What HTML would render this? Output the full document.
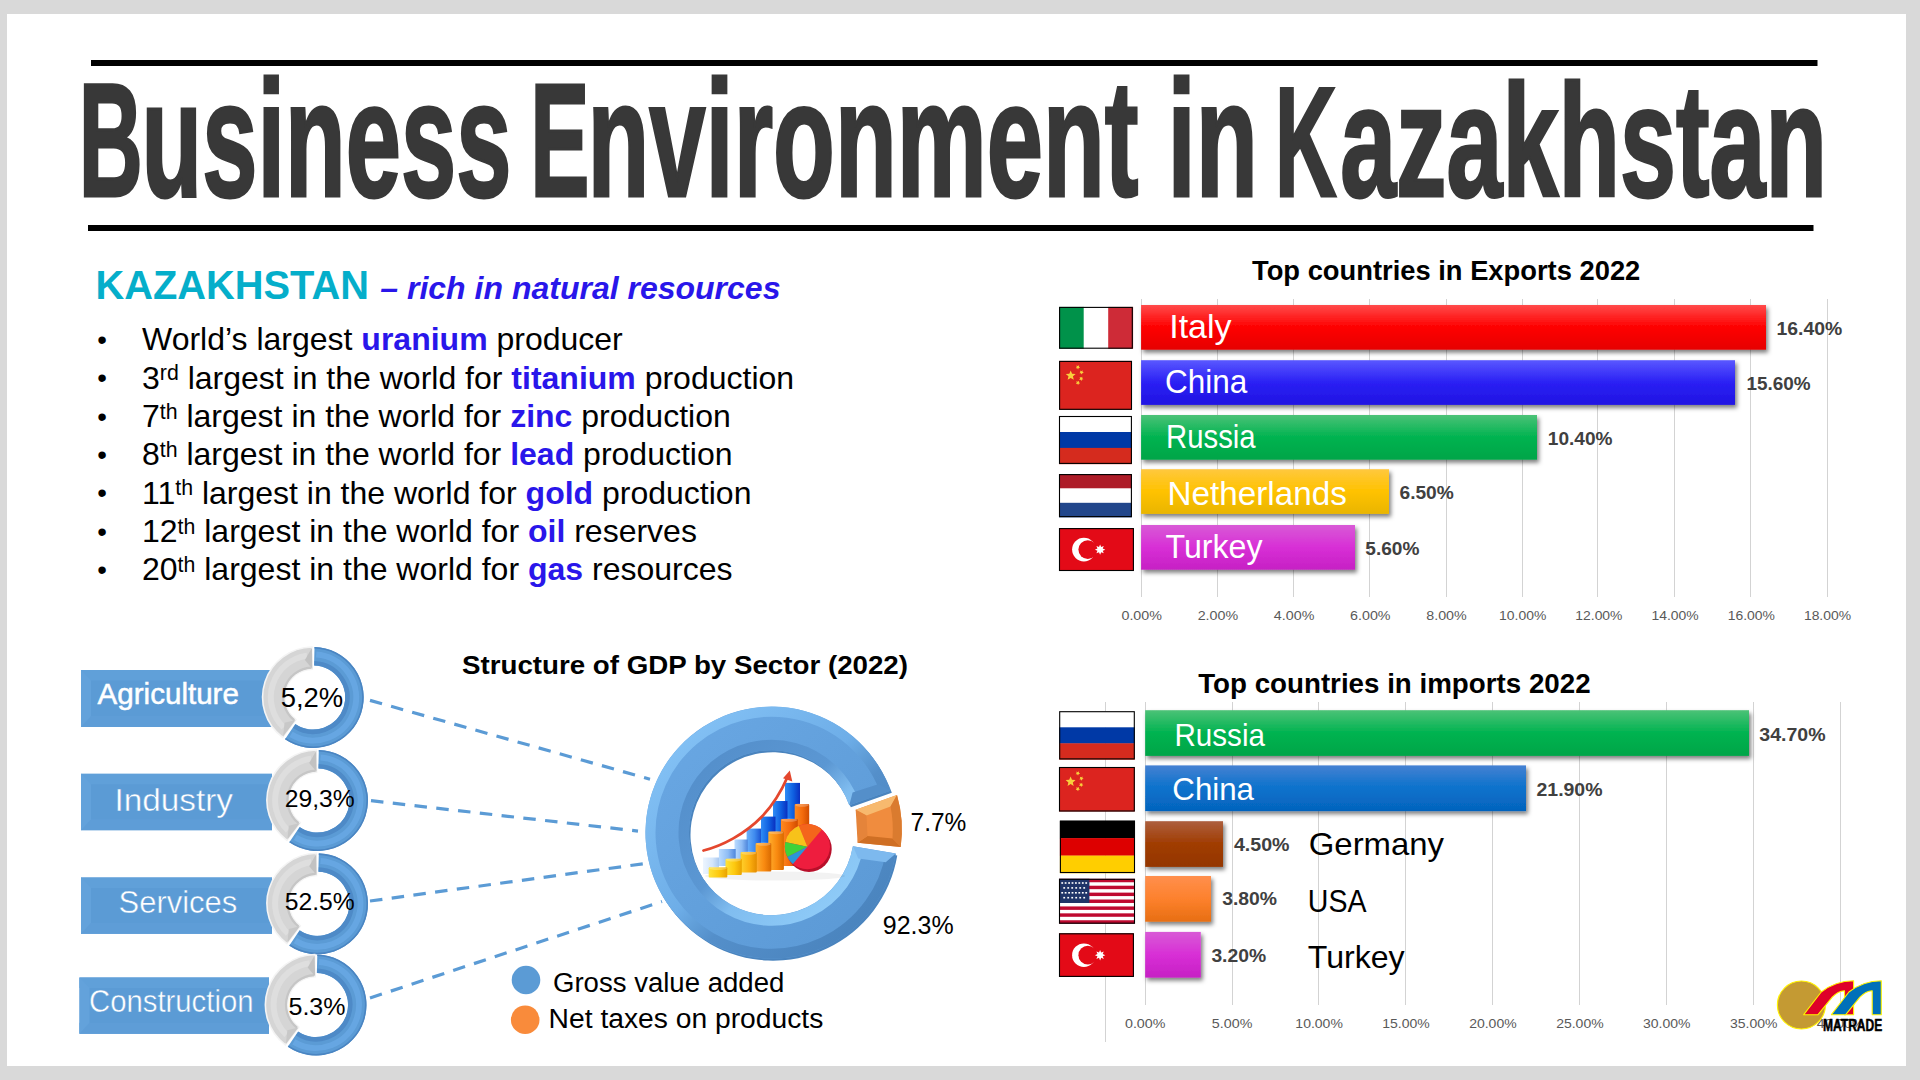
<!DOCTYPE html>
<html lang="en">
<head>
<meta charset="utf-8">
<title>Business Environment in Kazakhstan</title>
<style>
html,body{margin:0;padding:0}
body{width:1920px;height:1080px;background:#d9d9d9;position:relative;overflow:hidden;font-family:"Liberation Sans",sans-serif}
#slide{position:absolute;left:7px;top:14px;width:1899px;height:1052px;background:#fff}
svg{position:absolute;left:0;top:0}
text{font-family:"Liberation Sans",sans-serif}
.b{font-weight:bold}
.hl{font-weight:bold;fill:#2916ea}
.sup{font-size:21.3px}
.ax{font-size:12.9px;fill:#595959;text-anchor:middle}
.val{font-size:17.8px;font-weight:bold;fill:#404040}
.lbl{fill:#fff}
</style>
</head>
<body>
<div id="slide"></div>
<svg width="1920" height="1080" viewBox="0 0 1920 1080">
<defs>

<linearGradient id="gRed" x1="0" y1="0" x2="0" y2="1"><stop offset="0" stop-color="#ff4a4a"/><stop offset=".5" stop-color="#fe0000"/><stop offset="1" stop-color="#e60000"/></linearGradient>
<linearGradient id="gBlue" x1="0" y1="0" x2="0" y2="1"><stop offset="0" stop-color="#5a58ff"/><stop offset=".5" stop-color="#2a20f4"/><stop offset="1" stop-color="#2114e2"/></linearGradient>
<linearGradient id="gGreen" x1="0" y1="0" x2="0" y2="1"><stop offset="0" stop-color="#4cc277"/><stop offset=".5" stop-color="#00b350"/><stop offset="1" stop-color="#00a548"/></linearGradient>
<linearGradient id="gYel" x1="0" y1="0" x2="0" y2="1"><stop offset="0" stop-color="#ffc83e"/><stop offset=".5" stop-color="#ffc200"/><stop offset="1" stop-color="#e9b500"/></linearGradient>
<linearGradient id="gMag" x1="0" y1="0" x2="0" y2="1"><stop offset="0" stop-color="#d85ad6"/><stop offset=".5" stop-color="#d82fd6"/><stop offset="1" stop-color="#c620c4"/></linearGradient>
<linearGradient id="gBlue2" x1="0" y1="0" x2="0" y2="1"><stop offset="0" stop-color="#4681d2"/><stop offset=".5" stop-color="#0a72cc"/><stop offset="1" stop-color="#0563bd"/></linearGradient>
<linearGradient id="gBrown" x1="0" y1="0" x2="0" y2="1"><stop offset="0" stop-color="#ad5f3d"/><stop offset=".5" stop-color="#a03c02"/><stop offset="1" stop-color="#943600"/></linearGradient>
<linearGradient id="gOrange" x1="0" y1="0" x2="0" y2="1"><stop offset="0" stop-color="#ff8f4d"/><stop offset=".5" stop-color="#fd812d"/><stop offset="1" stop-color="#e76e12"/></linearGradient>
<filter id="sh" x="-5%" y="-20%" width="110%" height="150%"><feDropShadow dx="2" dy="3" stdDeviation="2" flood-color="#000" flood-opacity=".5"/></filter>

<g id="ring">
<path d="M1.32,-50.38 A50.40,50.40 0 1 1 -28.18,41.78 L-17.89,26.53 A32.00,32.00 0 1 0 0.84,-31.99 Z" fill="#5b9bd5"/>
<path d="M1.30,-49.68 A49.70,49.70 0 1 1 -27.79,41.20" fill="none" stroke="#4a85c2" stroke-width="1.6"/>
<path d="M3.00,-42.90 A43.00,43.00 0 1 1 -22.15,36.86" fill="none" stroke="#69a9e5" stroke-width="6" opacity=".8"/>
<path d="M1.19,-34.18 A34.20,34.20 0 1 1 -18.88,28.52" fill="none" stroke="#4e8ac7" stroke-width="4.5"/>
<path d="M-30.61,39.79 A50.20,50.20 0 0 1 -1.28,-50.49 L-0.89,-28.30 A28.00,28.00 0 0 0 -17.25,22.06 Z" fill="#d5d5d5" stroke="#f4f4f4" stroke-width="1.6"/>
<path d="M-29.58,29.91 A42.00,42.00 0 0 1 -6.25,-41.89" fill="none" stroke="#dedede" stroke-width="6"/>
<path d="M-19.03,22.70 A29.60,29.60 0 0 1 -1.95,-29.86" fill="none" stroke="#c6c6c6" stroke-width="2.2"/>
<path d="M-0.90,-28.80 L-1.26,-49.79 L-8.30,-37.47 Z" fill="#c2c2c2"/>
<path d="M-17.55,22.46 L-30.19,39.23 L-28.64,25.13 Z" fill="#c8c8c8"/>
</g>

<linearGradient id="dMain" gradientUnits="userSpaceOnUse" x1="680" y1="740" x2="865" y2="925"><stop offset="0" stop-color="#68a6e2"/><stop offset="1" stop-color="#5c9ad6"/></linearGradient>
<linearGradient id="dOut" gradientUnits="userSpaceOnUse" x1="680" y1="740" x2="865" y2="925"><stop offset="0" stop-color="#82c0f4"/><stop offset=".45" stop-color="#6eaee8"/><stop offset=".62" stop-color="#548fca"/><stop offset="1" stop-color="#4a84be"/></linearGradient>
<linearGradient id="dIn" gradientUnits="userSpaceOnUse" x1="700" y1="760" x2="845" y2="905"><stop offset="0" stop-color="#548fcb"/><stop offset=".45" stop-color="#5b97d3"/><stop offset=".62" stop-color="#80bdf0"/><stop offset="1" stop-color="#90ccf8"/></linearGradient>
<linearGradient id="cY" x1="0" y1="0" x2="1" y2="0"><stop offset="0" stop-color="#ffe43a"/><stop offset=".55" stop-color="#fdc90f"/><stop offset="1" stop-color="#e9a200"/></linearGradient>
<linearGradient id="cO" x1="0" y1="0" x2="1" y2="0"><stop offset="0" stop-color="#ffb02e"/><stop offset=".55" stop-color="#f98a10"/><stop offset="1" stop-color="#d96a00"/></linearGradient>
<linearGradient id="cR" x1="0" y1="0" x2="1" y2="0"><stop offset="0" stop-color="#ff8a20"/><stop offset=".55" stop-color="#f36a0c"/><stop offset="1" stop-color="#d04c00"/></linearGradient>
<linearGradient id="cB" x1="0" y1="0" x2="1" y2="0"><stop offset="0" stop-color="#2f8cf5"/><stop offset=".55" stop-color="#0f5fe0"/><stop offset="1" stop-color="#0a2fc0"/></linearGradient>
<linearGradient id="cLB" x1="0" y1="0" x2="1" y2="0"><stop offset="0" stop-color="#bcdcff"/><stop offset=".55" stop-color="#8ebcf5"/><stop offset="1" stop-color="#4d86dc"/></linearGradient>
<linearGradient id="cY2" x1="0" y1="0" x2="1" y2="0"><stop offset="0" stop-color="#ffd22c"/><stop offset=".55" stop-color="#fcb010"/><stop offset="1" stop-color="#e38c00"/></linearGradient>
<linearGradient id="cMB" x1="0" y1="0" x2="1" y2="0"><stop offset="0" stop-color="#6db2fa"/><stop offset=".55" stop-color="#3f8bef"/><stop offset="1" stop-color="#1c55d2"/></linearGradient>
<linearGradient id="cVB" x1="0" y1="0" x2="1" y2="0"><stop offset="0" stop-color="#edf5ff"/><stop offset=".6" stop-color="#d3e5fb"/><stop offset="1" stop-color="#a9c8f0"/></linearGradient>
<!--DEFS-->
</defs>

<!-- ===== TITLE ===== -->
<rect x="91" y="60" width="1726.5" height="6" fill="#000"/>
<rect x="88" y="225" width="1725.5" height="6" fill="#000"/>
<text y="196" font-weight="bold" fill="#383838" stroke="#383838" stroke-width="3"><tspan x="78.65" font-size="161.3" textLength="64.07" lengthAdjust="spacingAndGlyphs">B</tspan><tspan x="141.58" font-size="165.0" textLength="369.89" lengthAdjust="spacingAndGlyphs">usiness</tspan> <tspan x="530.35" font-size="161.3" textLength="59.17" lengthAdjust="spacingAndGlyphs">E</tspan><tspan x="587.49" font-size="165.0" textLength="551.09" lengthAdjust="spacingAndGlyphs">nvironment</tspan> <tspan x="1167.45" font-size="165.0" textLength="90.36" lengthAdjust="spacingAndGlyphs">in</tspan> <tspan x="1275.02" font-size="155.0" textLength="61.56" lengthAdjust="spacingAndGlyphs">K</tspan><tspan x="1340.13" font-size="160.0" textLength="486.75" lengthAdjust="spacingAndGlyphs">azakhstan</tspan></text>

<!-- ===== LEFT TEXT ===== -->
<text x="95.5" y="299.2" font-size="39.8" font-weight="bold" fill="#05aeca">KAZAKHSTAN<tspan dx="2.5" font-size="32" font-style="italic" fill="#2916ea"> – rich in natural resources</tspan></text>
<g font-size="32" fill="#000">
<text x="97.2" y="349.0" font-size="27.5">•</text>
<text x="142" y="350.4">World’s largest <tspan class="hl">uranium</tspan> producer</text>
<text x="97.2" y="387.3" font-size="27.5">•</text>
<text x="142" y="388.7">3<tspan class="sup" dy="-8.3">rd</tspan><tspan dy="8.3"> largest in the world for </tspan><tspan class="hl">titanium</tspan> production</text>
<text x="97.2" y="425.6" font-size="27.5">•</text>
<text x="142" y="427">7<tspan class="sup" dy="-8.3">th</tspan><tspan dy="8.3"> largest in the world for </tspan><tspan class="hl">zinc</tspan> production</text>
<text x="97.2" y="464.0" font-size="27.5">•</text>
<text x="142" y="465.4">8<tspan class="sup" dy="-8.3">th</tspan><tspan dy="8.3"> largest in the world for </tspan><tspan class="hl">lead</tspan> production</text>
<text x="97.2" y="502.3" font-size="27.5">•</text>
<text x="142" y="503.7">11<tspan class="sup" dy="-8.3">th</tspan><tspan dy="8.3"> largest in the world for </tspan><tspan class="hl">gold</tspan> production</text>
<text x="97.2" y="540.6" font-size="27.5">•</text>
<text x="142" y="542">12<tspan class="sup" dy="-8.3">th</tspan><tspan dy="8.3"> largest in the world for </tspan><tspan class="hl">oil</tspan> reserves</text>
<text x="97.2" y="579.0" font-size="27.5">•</text>
<text x="142" y="580.4">20<tspan class="sup" dy="-8.3">th</tspan><tspan dy="8.3"> largest in the world for </tspan><tspan class="hl">gas</tspan> resources</text>
</g>

<!-- ===== EXPORTS ===== -->
<text x="1252" y="279.6" font-size="27.2" font-weight="bold" fill="#000" textLength="388.3" lengthAdjust="spacingAndGlyphs">Top countries in Exports 2022</text>
<g stroke="#d3d3d3" stroke-width="1" shape-rendering="crispEdges"><line x1="1141.5" y1="299" x2="1141.5" y2="597"/><line x1="1217.5" y1="299" x2="1217.5" y2="597"/><line x1="1293.5" y1="299" x2="1293.5" y2="597"/><line x1="1369.5" y1="299" x2="1369.5" y2="597"/><line x1="1446.5" y1="299" x2="1446.5" y2="597"/><line x1="1522.5" y1="299" x2="1522.5" y2="597"/><line x1="1597.5" y1="299" x2="1597.5" y2="597"/><line x1="1674.5" y1="299" x2="1674.5" y2="597"/><line x1="1750.5" y1="299" x2="1750.5" y2="597"/><line x1="1827.5" y1="299" x2="1827.5" y2="597"/></g>
<g filter="url(#sh)"><rect x="1141.1" y="305.0" width="624.9" height="44.7" fill="url(#gRed)"/><rect x="1141.1" y="360.2" width="593.9" height="44.7" fill="url(#gBlue)"/><rect x="1141.1" y="415.0" width="395.9" height="44.7" fill="url(#gGreen)"/><rect x="1141.1" y="469.2" width="247.9" height="44.7" fill="url(#gYel)"/><rect x="1141.1" y="525.0" width="213.9" height="44.7" fill="url(#gMag)"/></g>
<g class="lbl"><text x="1169.2" y="337.5" font-size="33.3" textLength="62.4" lengthAdjust="spacingAndGlyphs">Italy</text>
<text x="1165.0" y="392.5" font-size="32.7" textLength="82.3" lengthAdjust="spacingAndGlyphs">China</text>
<text x="1166.0" y="448.3" font-size="33.3" textLength="89.6" lengthAdjust="spacingAndGlyphs">Russia</text>
<text x="1167.5" y="504.6" font-size="32.7" textLength="179.3" lengthAdjust="spacingAndGlyphs">Netherlands</text>
<text x="1165.5" y="558.3" font-size="32.7" textLength="97.0" lengthAdjust="spacingAndGlyphs">Turkey</text></g>
<g class="val"><text x="1776.5" y="334.8" textLength="65.7" lengthAdjust="spacingAndGlyphs">16.40%</text>
<text x="1746.4" y="389.8" textLength="64.1" lengthAdjust="spacingAndGlyphs">15.60%</text>
<text x="1547.8" y="445.2" textLength="64.7" lengthAdjust="spacingAndGlyphs">10.40%</text>
<text x="1399.5" y="498.9" textLength="54.3" lengthAdjust="spacingAndGlyphs">6.50%</text>
<text x="1365.3" y="555.0" textLength="54.1" lengthAdjust="spacingAndGlyphs">5.60%</text></g>
<g class="ax"><text x="1141.7" y="620" textLength="40.5" lengthAdjust="spacingAndGlyphs">0.00%</text>
<text x="1217.9" y="620" textLength="40.5" lengthAdjust="spacingAndGlyphs">2.00%</text>
<text x="1294.1" y="620" textLength="40.5" lengthAdjust="spacingAndGlyphs">4.00%</text>
<text x="1370.3" y="620" textLength="40.5" lengthAdjust="spacingAndGlyphs">6.00%</text>
<text x="1446.5" y="620" textLength="40.5" lengthAdjust="spacingAndGlyphs">8.00%</text>
<text x="1522.7" y="620" textLength="47.2" lengthAdjust="spacingAndGlyphs">10.00%</text>
<text x="1598.9" y="620" textLength="47.2" lengthAdjust="spacingAndGlyphs">12.00%</text>
<text x="1675.1" y="620" textLength="47.2" lengthAdjust="spacingAndGlyphs">14.00%</text>
<text x="1751.3" y="620" textLength="47.2" lengthAdjust="spacingAndGlyphs">16.00%</text>
<text x="1827.5" y="620" textLength="47.2" lengthAdjust="spacingAndGlyphs">18.00%</text></g>
<g><rect x="1059.1" y="306.9" width="24.9" height="41.8" fill="#00924a"/><rect x="1083.7" y="306.9" width="24.9" height="41.8" fill="#ffffff"/><rect x="1108.2" y="306.9" width="24.9" height="41.8" fill="#ce2b37"/><rect x="1059.6" y="307.4" width="72.7" height="40.8" fill="none" stroke="#000" stroke-width="1.1"/><rect x="1059.1" y="360.9" width="72.9" height="48.9" fill="#dc241f"/><g fill="#f8cf3c"><polygon points="1070.70,370.40 1072.08,373.71 1075.65,373.99 1072.93,376.32 1073.76,379.81 1070.70,377.94 1067.64,379.81 1068.47,376.32 1065.75,373.99 1069.32,373.71"/><polygon points="1079.05,365.21 1078.95,366.73 1080.15,367.68 1078.67,368.05 1078.14,369.49 1077.32,368.20 1075.80,368.14 1076.78,366.96 1076.36,365.49 1077.78,366.06"/><polygon points="1082.65,370.31 1082.55,371.83 1083.75,372.78 1082.27,373.15 1081.74,374.59 1080.92,373.30 1079.40,373.24 1080.38,372.06 1079.96,370.59 1081.38,371.16"/><polygon points="1082.35,376.71 1082.25,378.23 1083.45,379.18 1081.97,379.55 1081.44,380.99 1080.62,379.70 1079.10,379.64 1080.08,378.46 1079.66,376.99 1081.08,377.56"/><polygon points="1079.05,380.81 1078.95,382.33 1080.15,383.28 1078.67,383.65 1078.14,385.09 1077.32,383.80 1075.80,383.74 1076.78,382.56 1076.36,381.09 1077.78,381.66"/></g><rect x="1059.6" y="361.4" width="71.9" height="47.9" fill="none" stroke="#000" stroke-width="1.1"/><rect x="1059.0" y="416.0" width="72.9" height="16.3" fill="#ffffff"/><rect x="1059.0" y="432.0" width="72.9" height="16.3" fill="#0039a6"/><rect x="1059.0" y="447.9" width="72.9" height="16.3" fill="#d52b1e"/><rect x="1059.5" y="416.5" width="71.9" height="46.9" fill="none" stroke="#000" stroke-width="1.1"/><rect x="1059.0" y="474.1" width="72.9" height="14.6" fill="#ae1c28"/><rect x="1059.0" y="488.4" width="72.9" height="14.6" fill="#ffffff"/><rect x="1059.0" y="502.8" width="72.9" height="14.6" fill="#21468b"/><rect x="1059.5" y="474.6" width="71.9" height="42.0" fill="none" stroke="#000" stroke-width="1.1"/><rect x="1059.0" y="528.1" width="74.9" height="42.9" fill="#e30a17"/><circle cx="1083.9" cy="549.6" r="11.8" fill="#fff"/><circle cx="1087.8" cy="549.6" r="9.4" fill="#e30a17"/><g fill="#fff"><polygon points="1100.10,544.45 1101.19,547.01 1103.78,545.97 1102.74,548.56 1105.30,549.65 1102.74,550.74 1103.78,553.33 1101.19,552.29 1100.10,554.85 1099.01,552.29 1096.42,553.33 1097.46,550.74 1094.90,549.65 1097.46,548.56 1096.42,545.97 1099.01,547.01"/></g><rect x="1059.5" y="528.6" width="73.9" height="41.9" fill="none" stroke="#000" stroke-width="1.1"/></g>


<!-- ===== IMPORTS ===== -->
<text x="1198.2" y="692.8" font-size="27.6" font-weight="bold" fill="#000" textLength="392.4" lengthAdjust="spacingAndGlyphs">Top countries in imports 2022</text>
<g stroke="#d3d3d3" stroke-width="1" shape-rendering="crispEdges"><line x1="1105.5" y1="701.5" x2="1105.5" y2="1042"/><line x1="1145.5" y1="701.5" x2="1145.5" y2="1004.5"/><line x1="1232.5" y1="701.5" x2="1232.5" y2="1004.5"/><line x1="1318.5" y1="701.5" x2="1318.5" y2="1004.5"/><line x1="1405.5" y1="701.5" x2="1405.5" y2="1004.5"/><line x1="1492.5" y1="701.5" x2="1492.5" y2="1004.5"/><line x1="1579.5" y1="701.5" x2="1579.5" y2="1004.5"/><line x1="1666.5" y1="701.5" x2="1666.5" y2="1004.5"/><line x1="1753.5" y1="701.5" x2="1753.5" y2="1004.5"/><line x1="1840.5" y1="701.5" x2="1840.5" y2="1004.5"/></g>
<g filter="url(#sh)"><rect x="1145.2" y="710.2" width="603.8" height="45.7" fill="url(#gGreen)"/><rect x="1145.2" y="765.4" width="380.8" height="45.7" fill="url(#gBlue2)"/><rect x="1145.2" y="821.2" width="77.8" height="45.7" fill="url(#gBrown)"/><rect x="1145.2" y="876.0" width="65.8" height="45.7" fill="url(#gOrange)"/><rect x="1145.2" y="931.9" width="55.6" height="45.7" fill="url(#gMag)"/></g>
<g class="lbl"><text x="1174.4" y="745.8" font-size="32.0" textLength="90.6" lengthAdjust="spacingAndGlyphs">Russia</text>
<text x="1172.3" y="800.4" font-size="32.0" textLength="81.7" lengthAdjust="spacingAndGlyphs">China</text></g>
<g fill="#000"><text x="1308.8" y="854.6" font-size="31.3" textLength="135.2" lengthAdjust="spacingAndGlyphs">Germany</text>
<text x="1307.8" y="911.5" font-size="31.8" textLength="58.7" lengthAdjust="spacingAndGlyphs">USA</text>
<text x="1307.8" y="968.1" font-size="31.8" textLength="96.8" lengthAdjust="spacingAndGlyphs">Turkey</text></g>
<g class="val"><text x="1759.3" y="740.6" textLength="66.2" lengthAdjust="spacingAndGlyphs">34.70%</text>
<text x="1536.5" y="795.6" textLength="66.0" lengthAdjust="spacingAndGlyphs">21.90%</text>
<text x="1233.9" y="850.8" textLength="55.6" lengthAdjust="spacingAndGlyphs">4.50%</text>
<text x="1222.2" y="905.2" textLength="54.8" lengthAdjust="spacingAndGlyphs">3.80%</text>
<text x="1211.4" y="961.9" textLength="54.7" lengthAdjust="spacingAndGlyphs">3.20%</text></g>
<g class="ax"><text x="1145.2" y="1028.2" textLength="40.5" lengthAdjust="spacingAndGlyphs">0.00%</text>
<text x="1232.1" y="1028.2" textLength="40.5" lengthAdjust="spacingAndGlyphs">5.00%</text>
<text x="1319.1" y="1028.2" textLength="47.5" lengthAdjust="spacingAndGlyphs">10.00%</text>
<text x="1406.0" y="1028.2" textLength="47.5" lengthAdjust="spacingAndGlyphs">15.00%</text>
<text x="1492.9" y="1028.2" textLength="47.5" lengthAdjust="spacingAndGlyphs">20.00%</text>
<text x="1579.9" y="1028.2" textLength="47.5" lengthAdjust="spacingAndGlyphs">25.00%</text>
<text x="1666.8" y="1028.2" textLength="47.5" lengthAdjust="spacingAndGlyphs">30.00%</text>
<text x="1753.7" y="1028.2" textLength="47.5" lengthAdjust="spacingAndGlyphs">35.00%</text>
<text x="1840.6" y="1028.2" textLength="47.5" lengthAdjust="spacingAndGlyphs">40.00%</text></g>
<g><rect x="1059.2" y="711.2" width="75.6" height="16.4" fill="#ffffff"/><rect x="1059.2" y="727.3" width="75.6" height="16.4" fill="#0039a6"/><rect x="1059.2" y="743.3" width="75.6" height="16.4" fill="#d52b1e"/><rect x="1059.7" y="711.7" width="74.6" height="47.2" fill="none" stroke="#000" stroke-width="1.1"/><rect x="1059.0" y="767.0" width="75.8" height="44.5" fill="#dc241f"/><g fill="#f8cf3c"><polygon points="1070.60,776.50 1071.98,779.81 1075.55,780.09 1072.83,782.42 1073.66,785.91 1070.60,784.04 1067.54,785.91 1068.37,782.42 1065.65,780.09 1069.22,779.81"/><polygon points="1078.95,771.31 1078.85,772.83 1080.05,773.78 1078.57,774.15 1078.04,775.59 1077.22,774.30 1075.70,774.24 1076.68,773.06 1076.26,771.59 1077.68,772.16"/><polygon points="1082.55,776.41 1082.45,777.93 1083.65,778.88 1082.17,779.25 1081.64,780.69 1080.82,779.40 1079.30,779.34 1080.28,778.16 1079.86,776.69 1081.28,777.26"/><polygon points="1082.25,782.81 1082.15,784.33 1083.35,785.28 1081.87,785.65 1081.34,787.09 1080.52,785.80 1079.00,785.74 1079.98,784.56 1079.56,783.09 1080.98,783.66"/><polygon points="1078.95,786.91 1078.85,788.43 1080.05,789.38 1078.57,789.75 1078.04,791.19 1077.22,789.90 1075.70,789.84 1076.68,788.66 1076.26,787.19 1077.68,787.76"/></g><rect x="1059.5" y="767.5" width="74.8" height="43.5" fill="none" stroke="#000" stroke-width="1.1"/><rect x="1059.9" y="820.7" width="75.1" height="17.7" fill="#000000"/><rect x="1059.9" y="838.1" width="75.1" height="17.7" fill="#dd0000"/><rect x="1059.9" y="855.6" width="75.1" height="17.7" fill="#ffce00"/><rect x="1060.4" y="821.2" width="74.1" height="51.3" fill="none" stroke="#000" stroke-width="1.1"/><rect x="1059.0" y="878.8" width="76.0" height="44.9" fill="#fff"/><rect x="1059.0" y="878.80" width="76.0" height="3.45" fill="#bf0a30"/><rect x="1059.0" y="885.71" width="76.0" height="3.45" fill="#bf0a30"/><rect x="1059.0" y="892.62" width="76.0" height="3.45" fill="#bf0a30"/><rect x="1059.0" y="899.52" width="76.0" height="3.45" fill="#bf0a30"/><rect x="1059.0" y="906.43" width="76.0" height="3.45" fill="#bf0a30"/><rect x="1059.0" y="913.34" width="76.0" height="3.45" fill="#bf0a30"/><rect x="1059.0" y="920.25" width="76.0" height="3.45" fill="#bf0a30"/><rect x="1059.0" y="878.8" width="30.4" height="24.18" fill="#1f3468"/><g fill="#fff"><rect x="1061.3" y="882.2" width="1.8" height="1.6"/><rect x="1064.7" y="882.2" width="1.8" height="1.6"/><rect x="1068.2" y="882.2" width="1.8" height="1.6"/><rect x="1071.6" y="882.2" width="1.8" height="1.6"/><rect x="1075.0" y="882.2" width="1.8" height="1.6"/><rect x="1078.4" y="882.2" width="1.8" height="1.6"/><rect x="1081.9" y="882.2" width="1.8" height="1.6"/><rect x="1085.3" y="882.2" width="1.8" height="1.6"/><rect x="1063.3" y="887.1" width="1.8" height="1.6"/><rect x="1067.3" y="887.1" width="1.8" height="1.6"/><rect x="1071.3" y="887.1" width="1.8" height="1.6"/><rect x="1075.3" y="887.1" width="1.8" height="1.6"/><rect x="1079.3" y="887.1" width="1.8" height="1.6"/><rect x="1083.3" y="887.1" width="1.8" height="1.6"/><rect x="1061.3" y="892.0" width="1.8" height="1.6"/><rect x="1064.7" y="892.0" width="1.8" height="1.6"/><rect x="1068.2" y="892.0" width="1.8" height="1.6"/><rect x="1071.6" y="892.0" width="1.8" height="1.6"/><rect x="1075.0" y="892.0" width="1.8" height="1.6"/><rect x="1078.4" y="892.0" width="1.8" height="1.6"/><rect x="1081.9" y="892.0" width="1.8" height="1.6"/><rect x="1085.3" y="892.0" width="1.8" height="1.6"/><rect x="1063.3" y="896.9" width="1.8" height="1.6"/><rect x="1067.3" y="896.9" width="1.8" height="1.6"/><rect x="1071.3" y="896.9" width="1.8" height="1.6"/><rect x="1075.3" y="896.9" width="1.8" height="1.6"/><rect x="1079.3" y="896.9" width="1.8" height="1.6"/><rect x="1083.3" y="896.9" width="1.8" height="1.6"/></g><rect x="1059.5" y="879.3" width="75.0" height="43.9" fill="none" stroke="#000" stroke-width="1.1"/><rect x="1059.0" y="933.3" width="74.9" height="43.6" fill="#e30a17"/><circle cx="1083.9" cy="955.2" r="11.8" fill="#fff"/><circle cx="1087.8" cy="955.2" r="9.4" fill="#e30a17"/><g fill="#fff"><polygon points="1100.10,950.00 1101.19,952.56 1103.78,951.52 1102.74,954.11 1105.30,955.20 1102.74,956.29 1103.78,958.88 1101.19,957.84 1100.10,960.40 1099.01,957.84 1096.42,958.88 1097.46,956.29 1094.90,955.20 1097.46,954.11 1096.42,951.52 1099.01,952.56"/></g><rect x="1059.5" y="933.8" width="73.9" height="42.6" fill="none" stroke="#000" stroke-width="1.1"/></g>


<!-- ===== GDP ===== -->
<g stroke="#5b9bd5" stroke-width="3.2" stroke-dasharray="12.5 9.4" fill="none"><line x1="370.0" y1="700.4" x2="650.0" y2="779.2"/><line x1="371.0" y1="800.7" x2="638.0" y2="831.1"/><line x1="370.0" y1="901.0" x2="646.0" y2="863.4"/><line x1="370.0" y1="998.0" x2="662.0" y2="901.5"/></g>
<rect x="81.0" y="670.0" width="191.0" height="57.0" fill="#5b9bd5"/><rect x="81.0" y="670.0" width="191.0" height="10.5" fill="#60a0d9"/><rect x="81.0" y="716.0" width="191.0" height="11" fill="#5e9dd7"/><polygon points="81.0,670.0 91.0,680.5 91.0,716.0 81.0,727.0" fill="#63a2db"/><rect x="81.0" y="773.8" width="191.0" height="56.4" fill="#5b9bd5"/><rect x="81.0" y="773.8" width="191.0" height="10.5" fill="#60a0d9"/><rect x="81.0" y="819.2" width="191.0" height="11" fill="#5e9dd7"/><polygon points="81.0,773.8 91.0,784.3 91.0,819.2 81.0,830.2" fill="#63a2db"/><rect x="81.0" y="877.5" width="191.0" height="56.3" fill="#5b9bd5"/><rect x="81.0" y="877.5" width="191.0" height="10.5" fill="#60a0d9"/><rect x="81.0" y="922.8" width="191.0" height="11" fill="#5e9dd7"/><polygon points="81.0,877.5 91.0,888.0 91.0,922.8 81.0,933.8" fill="#63a2db"/><rect x="79.5" y="977.5" width="189.5" height="56.3" fill="#5b9bd5"/><rect x="79.5" y="977.5" width="189.5" height="10.5" fill="#60a0d9"/><rect x="79.5" y="1022.8" width="189.5" height="11" fill="#5e9dd7"/><polygon points="79.5,977.5 89.5,988.0 89.5,1022.8 79.5,1033.8" fill="#63a2db"/>
<circle cx="313.2" cy="697.5" r="30" fill="#fff"/><use href="#ring" x="313.2" y="697.5"/><circle cx="317.5" cy="800.5" r="30" fill="#fff"/><use href="#ring" x="317.5" y="800.5"/><circle cx="317.5" cy="903.8" r="30" fill="#fff"/><use href="#ring" x="317.5" y="903.8"/><circle cx="316.0" cy="1005.0" r="30" fill="#fff"/><use href="#ring" x="316.0" y="1005.0"/>
<text x="97.6" y="704.1" font-size="29.9" fill="#fff" stroke="#fff" stroke-width=".5" textLength="141.3" lengthAdjust="spacingAndGlyphs">Agriculture</text>
<text x="114.5" y="810.8" font-size="32.0" fill="#fff" stroke="#5b9bd5" stroke-width=".45" textLength="118.5" lengthAdjust="spacingAndGlyphs">Industry</text>
<text x="118.5" y="912.5" font-size="31.7" fill="#fff" stroke="#5b9bd5" stroke-width=".45" textLength="118.8" lengthAdjust="spacingAndGlyphs">Services</text>
<text x="89.0" y="1012.0" font-size="30.5" fill="#fff" stroke="#5b9bd5" stroke-width=".45" textLength="164.5" lengthAdjust="spacingAndGlyphs">Construction</text>
<text x="280.7" y="706.7" font-size="27.9" fill="#000" textLength="62.5" lengthAdjust="spacingAndGlyphs">5,2%</text>
<text x="284.8" y="807.2" font-size="24.4" fill="#000" textLength="70.0" lengthAdjust="spacingAndGlyphs">29,3%</text>
<text x="284.8" y="909.6" font-size="24.4" fill="#000" textLength="70.0" lengthAdjust="spacingAndGlyphs">52.5%</text>
<text x="288.5" y="1014.6" font-size="24.4" fill="#000" textLength="57.0" lengthAdjust="spacingAndGlyphs">5.3%</text>
<text x="462" y="674.3" font-size="26.2" font-weight="bold" fill="#000" textLength="446" lengthAdjust="spacingAndGlyphs">Structure of GDP by Sector (2022)</text>
<g><path d="M897.27,855.50 A126.00,126.00 0 1 1 891.85,792.85 L850.82,807.30 A82.50,82.50 0 1 0 854.37,848.32 Z" fill="#4a84be"/><path d="M895.77,853.50 A126.00,126.00 0 1 1 890.35,790.85 L849.32,805.30 A82.50,82.50 0 1 0 852.87,846.32 Z" fill="url(#dMain)"/><path d="M890.73,853.30 A121.00,121.00 0 1 1 885.42,791.91" fill="none" stroke="url(#dOut)" stroke-width="10"/><path d="M857.97,847.64 A87.75,87.75 0 1 1 854.11,803.12" fill="none" stroke="url(#dIn)" stroke-width="10.5"/><polygon points="852.9,846.3 895.8,853.5 885.7,862.2 858.3,858.4" fill="#7db9ee"/><polygon points="849.3,805.3 890.3,790.8 879.0,784.0 852.6,792.5" fill="#548fca"/><path d="M855.7,809.8 L897,795 A126,126 0 0 1 900.7,846.9 L857.6,842.8 A83,83 0 0 0 855.7,809.8 Z" fill="#f08c3e" stroke="#fff" stroke-width="3.5" stroke-linejoin="round"/><path d="M855.7,809.8 L897,795 A126,126 0 0 1 900.7,846.9 L857.6,842.8 A83,83 0 0 0 855.7,809.8 Z" fill="#f08c3e"/><polygon points="855.7,809.8 897,795 890.5,806.5 866.5,815.5" fill="#f7b96e"/><path d="M897,795 A126,126 0 0 1 900.7,846.9 L892.5,838.5 A116,116 0 0 0 890.5,806.5 Z" fill="#da7b2f"/><polygon points="857.6,842.8 900.7,846.9 892.5,838.5 867.5,836" fill="#cf6f24"/><polygon points="855.7,809.8 866.5,815.5 867.5,836 857.6,842.8" fill="#e5843a"/></g>
<g><ellipse cx="775" cy="876" rx="70" ry="4.5" fill="#000" opacity=".05"/><rect x="785.0" y="782.9" width="15.0" height="83.1" fill="url(#cB)"/><rect x="773.0" y="801.0" width="14.5" height="65.0" fill="url(#cB)"/><rect x="761.0" y="816.6" width="14.5" height="49.4" fill="url(#cB)"/><rect x="746.6" y="828.6" width="14.4" height="37.4" fill="url(#cMB)"/><rect x="734.5" y="839.5" width="13.3" height="26.5" fill="url(#cLB)"/><rect x="718.9" y="849.0" width="16.8" height="17.0" fill="url(#cLB)"/><rect x="703.0" y="857.5" width="16.0" height="16.5" fill="url(#cVB)"/><rect x="794.7" y="804.0" width="14.5" height="62.0" rx="1" fill="url(#cR)"/><ellipse cx="802.0" cy="805.0" rx="6.8" ry="1.7" fill="#fff" opacity=".25"/><rect x="780.9" y="819.0" width="16.9" height="47.0" rx="1" fill="url(#cR)"/><ellipse cx="789.3" cy="820.0" rx="7.9" ry="1.7" fill="#fff" opacity=".25"/><rect x="768.3" y="831.6" width="15.6" height="38.4" rx="1" fill="url(#cO)"/><ellipse cx="776.1" cy="832.6" rx="7.3" ry="1.7" fill="#fff" opacity=".25"/><rect x="755.6" y="843.0" width="15.7" height="28.4" rx="1" fill="url(#cO)"/><ellipse cx="763.5" cy="844.0" rx="7.3" ry="1.7" fill="#fff" opacity=".25"/><rect x="740.6" y="852.0" width="16.2" height="20.6" rx="1" fill="url(#cY2)"/><ellipse cx="748.7" cy="853.0" rx="7.6" ry="1.7" fill="#fff" opacity=".25"/><rect x="725.5" y="858.7" width="16.3" height="16.3" rx="1" fill="url(#cY)"/><ellipse cx="733.6" cy="859.7" rx="7.6" ry="1.7" fill="#fff" opacity=".25"/><rect x="708.7" y="867.2" width="18.6" height="10.2" rx="1" fill="url(#cY)"/><ellipse cx="718.0" cy="868.2" rx="8.8" ry="1.7" fill="#fff" opacity=".25"/><path d="M703.5,850.5 C722,846 745,834 762,816.5 C772,806 781,792 787.5,777" fill="none" stroke="#e4472e" stroke-width="2.8" stroke-linecap="round"/><polygon points="789.8,770.5 792.3,781.5 783,778.3" fill="#e4472e"/><ellipse cx="809.0" cy="849.1" rx="22.7" ry="22.9" fill="#b80f2a"/><circle cx="807.4" cy="846.7" r="22.6" fill="#ee1d3e"/><path d="M807.4,846.7 L798.9,825.7 A22.6,22.6 0 0 1 821.9,829.4 Z" fill="#f4651c"/><path d="M807.4,846.7 L785.3,842.0 A22.6,22.6 0 0 1 798.9,825.7 Z" fill="#f7c21a"/><path d="M807.4,846.7 L787.3,857.0 A22.6,22.6 0 0 1 785.3,842.0 Z" fill="#3fd23a"/><path d="M807.4,846.7 L792.9,864.0 A22.6,22.6 0 0 1 787.3,857.0 Z" fill="#2b96d8"/></g>

<circle cx="526" cy="980" r="14.3" fill="#5b9bd5"/><circle cx="525.2" cy="1019.7" r="14.3" fill="#f98b3b"/><text x="553" y="991.6" font-size="27" fill="#000" textLength="231.3" lengthAdjust="spacingAndGlyphs">Gross value added</text>
<text x="548.6" y="1027.9" font-size="27" fill="#000" textLength="274.7" lengthAdjust="spacingAndGlyphs">Net taxes on products</text>
<text x="910.6" y="831" font-size="25.8" fill="#000" textLength="55.8" lengthAdjust="spacingAndGlyphs">7.7%</text>
<text x="882.8" y="933.7" font-size="25.8" fill="#000" textLength="70.8" lengthAdjust="spacingAndGlyphs">92.3%</text>


<!-- ===== LOGO ===== -->
<g stroke="#fff200" stroke-width="1.1" stroke-linejoin="round"><circle cx="1801.4" cy="1005" r="24" fill="#c49a33"/><path d="M1803.7,1014.7 L1821.2,992 Q1835.0,981 1853.6,980.7 L1853.6,1014.7 L1844.5,1014.7 L1844.5,990.7 Q1838.0,991 1832.2,997.2 L1818.0,1014.7 Z" fill="#de0029"/><path d="M1831.4,1014.7 L1848.9,992 Q1862.7,981 1881.3,980.7 L1881.3,1014.7 L1872.2,1014.7 L1872.2,990.7 Q1865.7,991 1859.9,997.2 L1845.7,1014.7 Z" fill="#0070b9"/></g>
<text x="1823" y="1030.6" font-size="16" font-weight="bold" fill="#000" stroke="#000" stroke-width=".5" textLength="59.2" lengthAdjust="spacingAndGlyphs">MATRADE</text>

</svg>
</body>
</html>
